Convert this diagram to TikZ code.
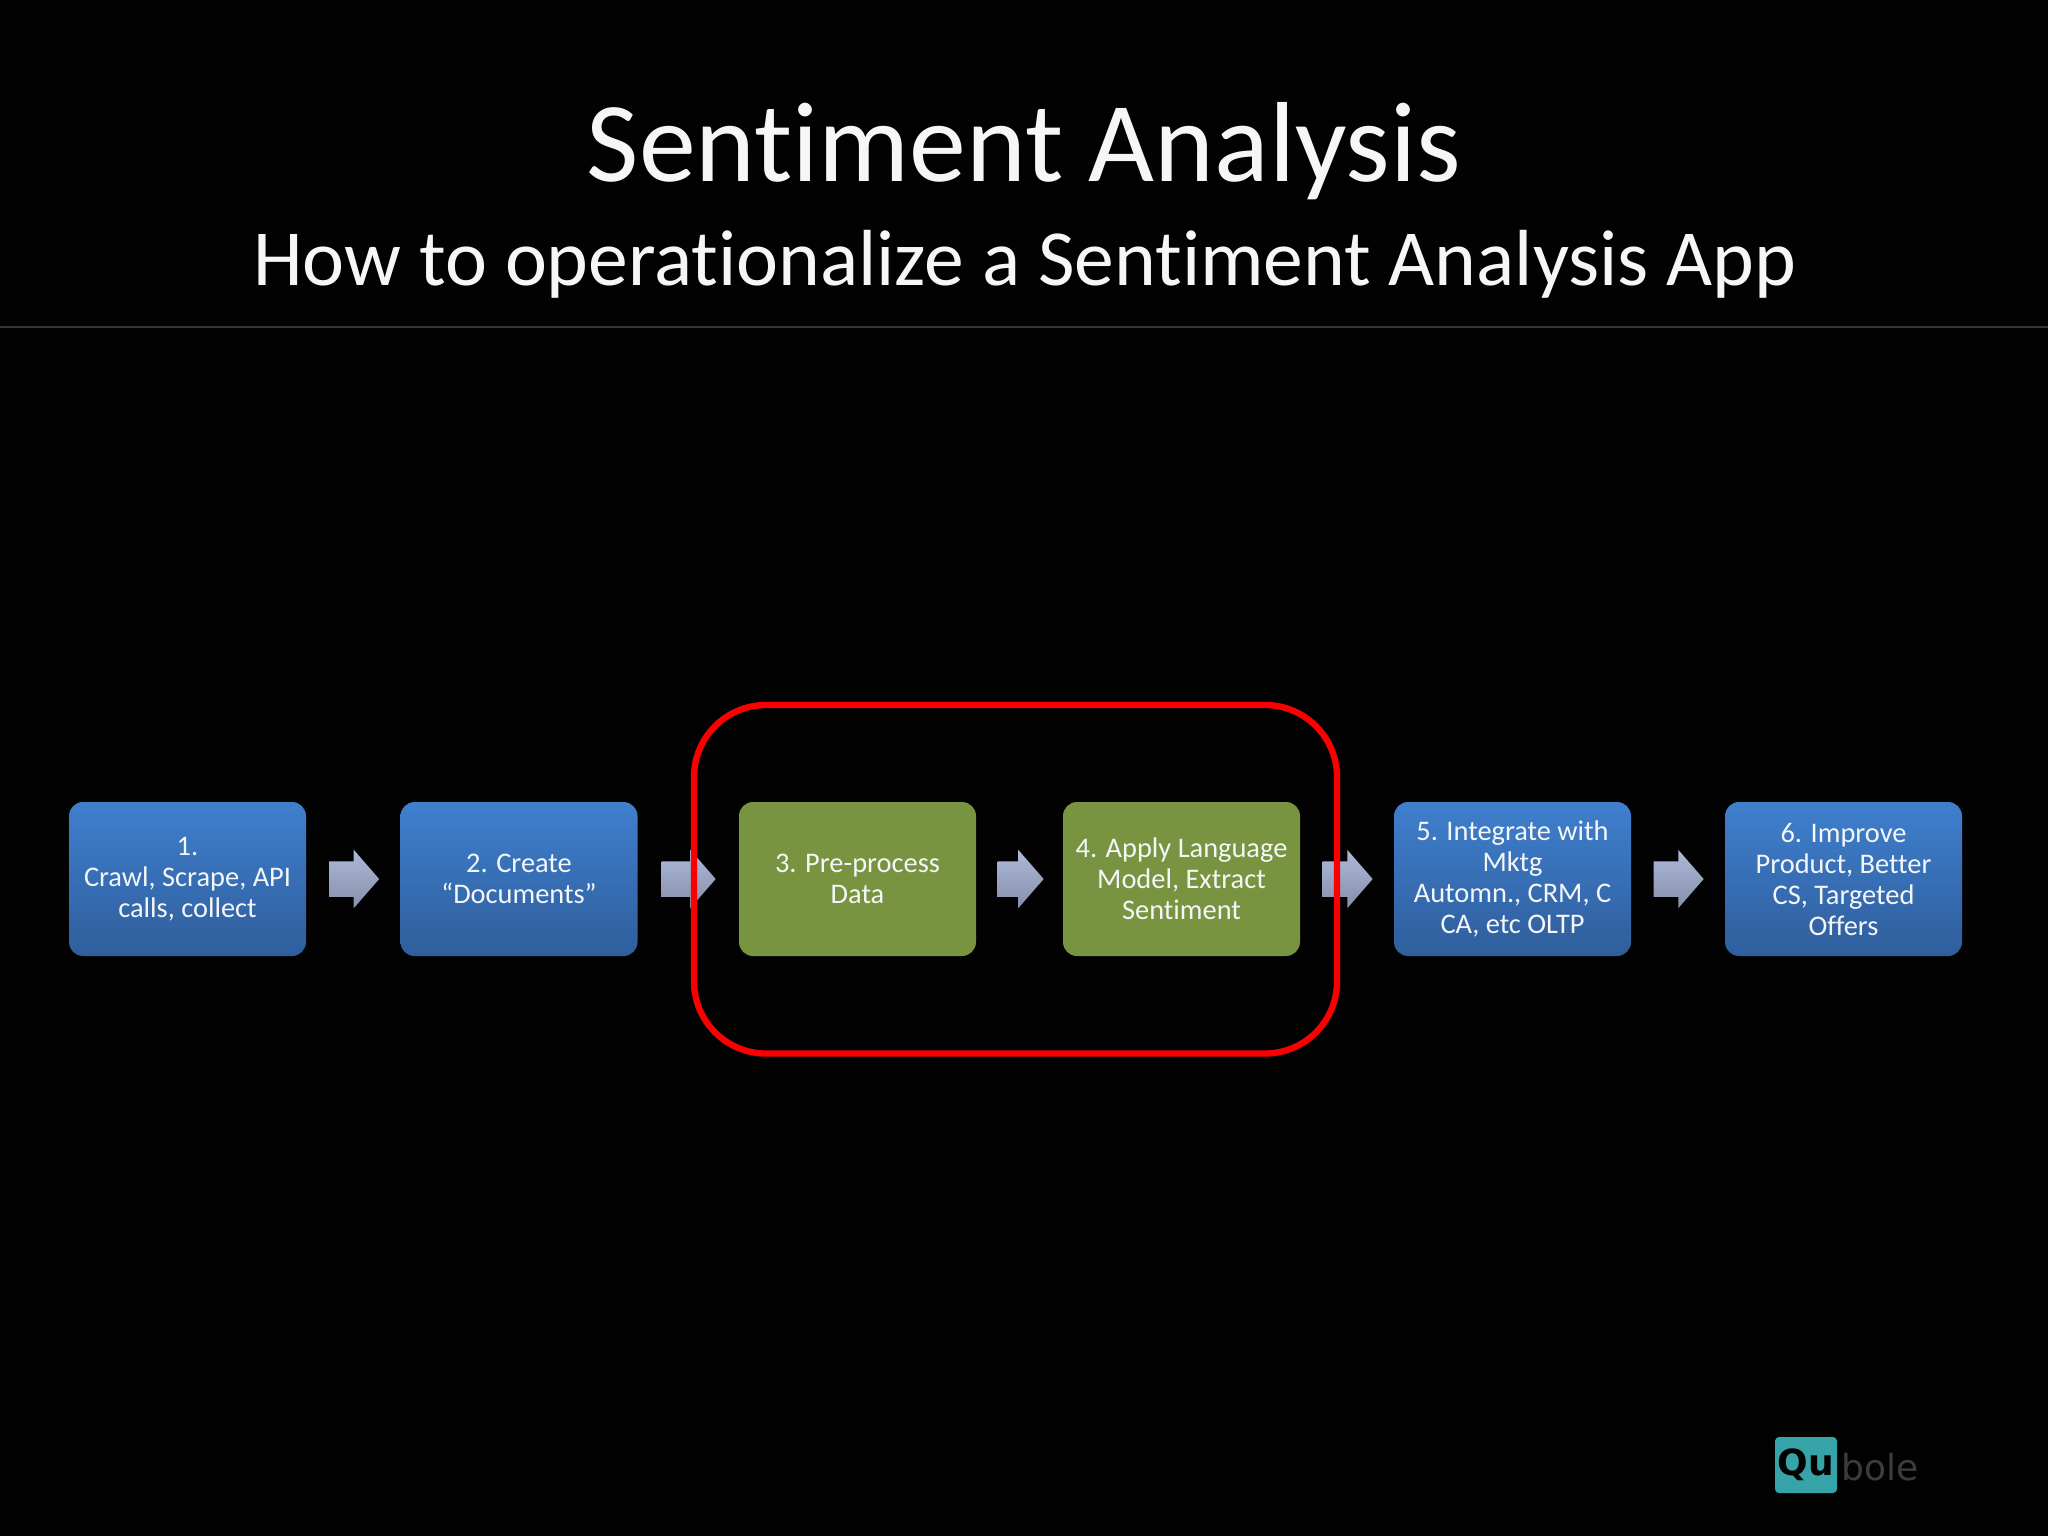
\documentclass[tikz,border=0pt]{standalone}
\usepackage{fontspec}
\setmainfont{Carlito}[Ligatures=NoCommon]
\newfontfamily\logofont{DejaVu Sans}
\usetikzlibrary{shapes.arrows}
\definecolor{bg}{HTML}{020202}
\definecolor{bluetop}{HTML}{3F7FCE}
\definecolor{bluebot}{HTML}{2F5E9C}
\definecolor{greenbox}{HTML}{789440}
\definecolor{arrowtop}{HTML}{AEB9DA}
\definecolor{arrowbot}{HTML}{858FA9}
\definecolor{rule}{HTML}{333333}
\definecolor{redframe}{HTML}{FA0000}
\definecolor{logoteal}{HTML}{35A3A8}
\definecolor{logogray}{HTML}{3C3C3C}
\definecolor{ink}{HTML}{F4F6F8}
\tikzset{
  x=0.75pt,y=-0.75pt,
  boxbase/.style={rounded corners=10.5pt,minimum width=177.75pt,minimum height=115.5pt,inner sep=0pt,
    align=center,text=ink,font=\fontsize{21.3}{23.25}\selectfont},
  bluebox/.style={boxbase,top color=bluetop,bottom color=bluebot},
  greenbx/.style={boxbase,fill=greenbox},
  blockarrow/.style={single arrow,anchor=tip,inner sep=0pt,text height=26.25pt,text depth=0pt,text width=0pt,minimum width=0pt,single arrow head extend=8.6pt,
    single arrow tip angle=98,single arrow head indent=0pt,top color=arrowtop,bottom color=arrowbot},
  titletext/.style={text=ink,inner sep=0pt,font=\fontsize{85.4}{96}\selectfont},
  subtitletext/.style={text=ink,inner sep=0pt,font=\fontsize{59.65}{70}\selectfont},
}
\begin{document}
\begin{tikzpicture}
\fill[bg] (0,0) rectangle (2048,1536);
\useasboundingbox (0,0) rectangle (2048,1536);
\node[titletext] (title) at (1024,151) {Sentiment Analysis};
\node[subtitletext] (subtitle) at (1025,264) {How to operationalize a Sentiment Analysis App};
\coordinate (ruleL) at (0,327);
\coordinate (ruleR) at (2048,327);
\draw[rule,line width=1.2pt] (ruleL) -- (ruleR);

\node[bluebox] (b1) at (187.5,879) {1.\\Crawl, Scrape, API\\calls, collect};
\node[bluebox] (b2) at (519,879) {2. Create\\“Documents”};
\node[greenbx] (b3) at (857.5,879) {3. Pre-process\\Data};
\node[greenbx] (b4) at (1181.5,879) {4. Apply Language\\Model, Extract\\Sentiment};
\node[bluebox] (b5) at (1512.5,879) {5. Integrate with\\Mktg\\Automn., CRM, C\\CA, etc OLTP};
\node[bluebox] (b6) at (1843.5,879) {6. Improve\\Product, Better\\CS, Targeted\\Offers};

\node[blockarrow,minimum height=37.5pt] (a12) at (379.5,879) {};
\node[blockarrow,minimum height=40.5pt] (a23) at (716,879) {};
\node[blockarrow,minimum height=34.5pt] (a34) at (1044,879) {};
\node[blockarrow,minimum height=37.5pt] (a45) at (1373,879) {};
\node[blockarrow,minimum height=37.5pt] (a56) at (1704,879) {};

\draw[redframe,line width=4.75pt,rounded corners=54pt] (694,705) rectangle (1337,1053.5);

\node[fill=logoteal,rounded corners=3pt,minimum width=46.5pt,minimum height=42pt,inner sep=0pt] (logobox) at (1806,1465) {};
\node[text=bg,inner sep=0pt,font=\logofont\bfseries\fontsize{27}{27}\selectfont] (logoqu) at (1806,1465) {Qu};
\node[text=logogray,inner sep=0pt,anchor=west,font=\logofont\fontsize{27}{27}\selectfont] (logobole) at (1841,1467) {bole};
\end{tikzpicture}
\end{document}
